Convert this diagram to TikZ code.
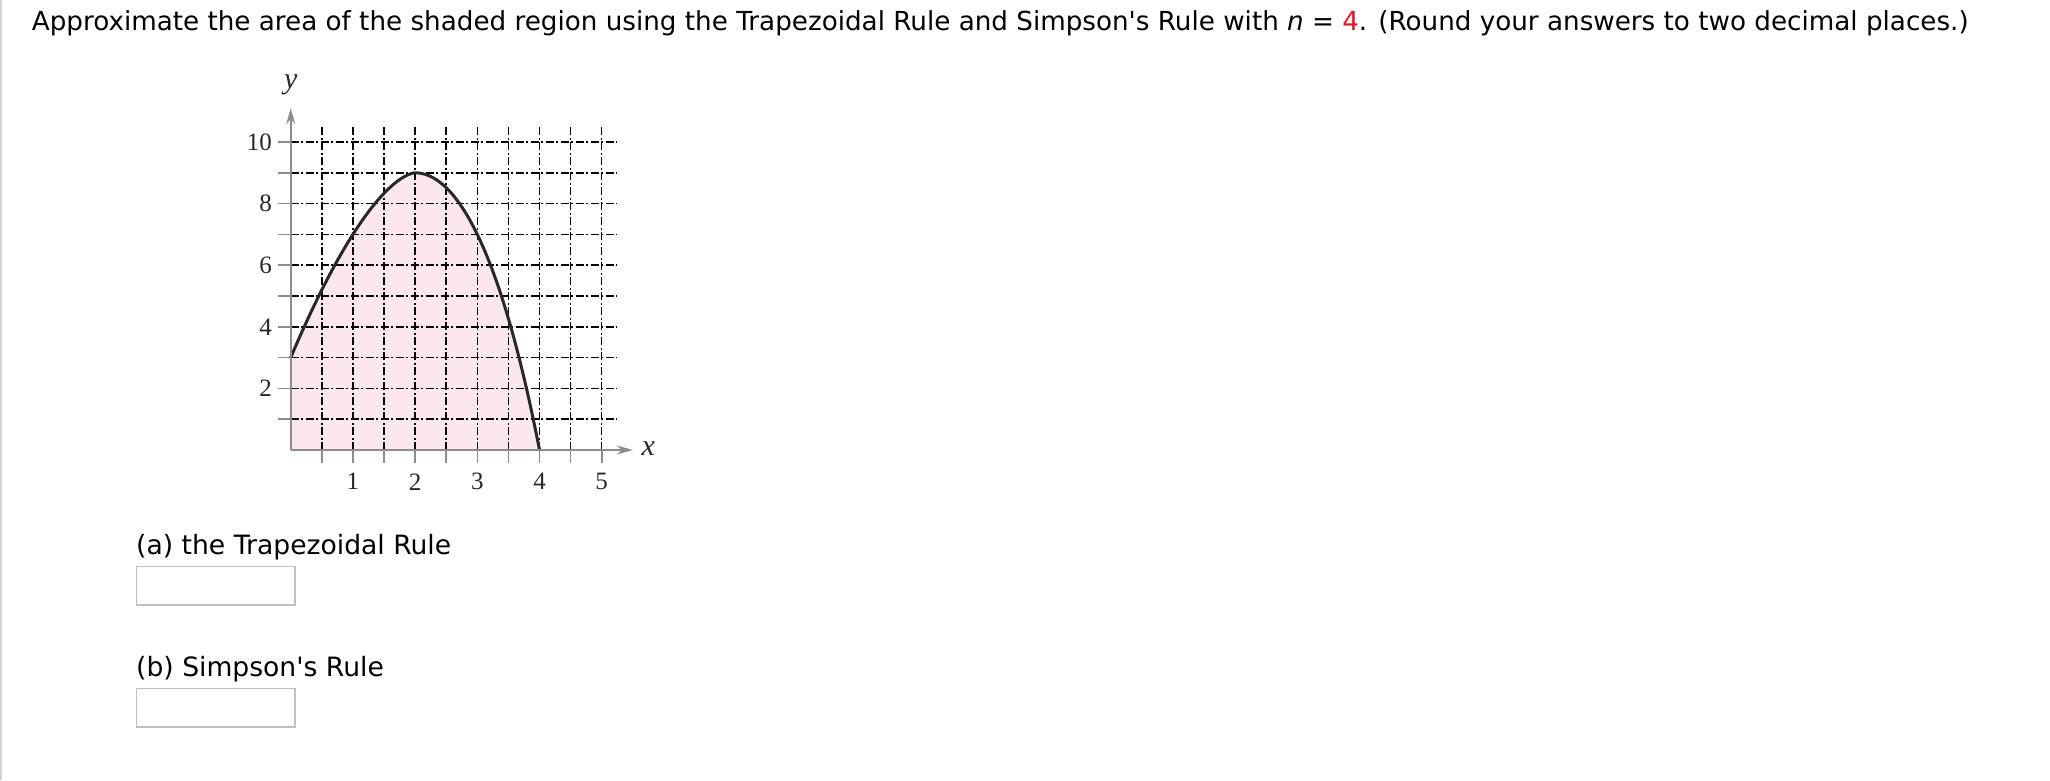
\documentclass[tikz,border=0pt]{standalone}
\usepackage{fontspec}
\setmainfont{DejaVu Sans}
\newfontfamily\graphfont{Liberation Serif}
\usetikzlibrary{arrows.meta}
\definecolor{pinkfill}{RGB}{252,230,239}
\definecolor{axisgray}{RGB}{140,140,140}
\definecolor{boxgray}{RGB}{192,192,192}
\definecolor{qred}{RGB}{232,20,35}
\definecolor{curvecol}{RGB}{40,40,40}
\definecolor{sidebar}{RGB}{210,210,210}
\definecolor{labelcol}{RGB}{40,40,40}
\tikzset{
  qtext/.style={anchor=base west, inner sep=0pt, font=\fontsize{26.2}{31}\selectfont},
  parttext/.style={anchor=base west, inner sep=0pt, font=\fontsize{26.6}{31}\selectfont},
  ansbox/.style={draw=boxgray, line width=1.5pt, fill=white},
  gridline/.style={black, line width=1.5pt, dash pattern=on 8pt off 2.5pt on 2pt off 2.5pt},
  ticks/.style={axisgray, line width=1.6pt},
  axisline/.style={axisgray, line width=2pt, -{Stealth[length=16pt,width=9pt]}},
  curveline/.style={curvecol, line width=3pt, line cap=round, line join=round},
  ticklabel/.style={font=\graphfont\fontsize{25}{25}\selectfont, text=labelcol, inner sep=0pt},
  axislabel/.style={font=\graphfont\itshape\fontsize{30}{30}\selectfont, text=labelcol, inner sep=0pt}
}
\begin{document}
\begin{tikzpicture}[x=1pt,y=-1pt]
\useasboundingbox (0,0) rectangle (2050,780);
\fill[white] (0,0) rectangle (2050,780);
\fill[sidebar] (0,0) rectangle (2,780);

\node[qtext] (question) at (31.7,30) {Approximate the area of the shaded region using the Trapezoidal Rule and Simpson\textquotesingle s Rule with \textit{n} = \textcolor{qred}{4}. (Round your answers to two decimal places.)};

\begin{scope}[shift={(290.7,450)}, x=62.2pt, y=30.8pt]
  \fill[pinkfill] (0,0) -- (0,3)
     -- plot[domain=0:1.99, samples=80] (\x,{9-2*(2-\x)^1.585})
     -- (2,9)
     -- plot[domain=2:4, samples=80] (\x,{9-1.917*(\x-2)^2-0.083*(\x-2)^4})
     -- (4,0) -- cycle;
  \foreach \yy in {1,...,10} {
    \draw[ticks] (-0.2,\yy) -- (0,\yy);
    \draw[gridline] (0,\yy) -- (5.25,\yy);
  }
  \foreach \xx in {0.5,1,...,5} {
    \draw[ticks] (\xx,-0.43) -- (\xx,0);
    \draw[gridline] (\xx,0) -- (\xx,10.55);
  }
  \draw[curveline] (0,3)
     -- plot[domain=0:1.99, samples=80] (\x,{9-2*(2-\x)^1.585})
     -- (2,9)
     -- plot[domain=2:4, samples=80] (\x,{9-1.917*(\x-2)^2-0.083*(\x-2)^4})
     -- (4,0);
  \coordinate (origin) at (0,0);
  \coordinate (xend) at (5.5,0);
  \coordinate (yend) at (0,11.1);
  \draw[axisline] (origin) -- (xend);
  \draw[axisline] (origin) -- (yend);
  \node[axislabel] (xlab) at (5.75,0.05) {x};
  \node[axislabel] (ylab) at (0,11.85) {y};
  \foreach \yy/\nm in {2/ya,4/yb,6/yc,8/yd,10/ye} {
    \node[ticklabel, anchor=east] (\nm) at (-0.3,\yy) {\yy};
  }
  \foreach \xx/\nm in {1/xa,2/xb,3/xc,4/xd,5/xe} {
    \node[ticklabel] (\nm) at (\xx,-1.03) {\xx};
  }
\end{scope}

\node[parttext] (parta) at (136,554) {(a) the Trapezoidal Rule};
\node[ansbox, anchor=north west, minimum width=158.6pt, minimum height=38.6pt, inner sep=0pt] (boxa) at (135.7,565.7) {};
\node[parttext] (partb) at (136,676) {(b) Simpson\textquotesingle s Rule};
\node[ansbox, anchor=north west, minimum width=158.6pt, minimum height=38.6pt, inner sep=0pt] (boxb) at (135.7,687.7) {};
\end{tikzpicture}
\end{document}
